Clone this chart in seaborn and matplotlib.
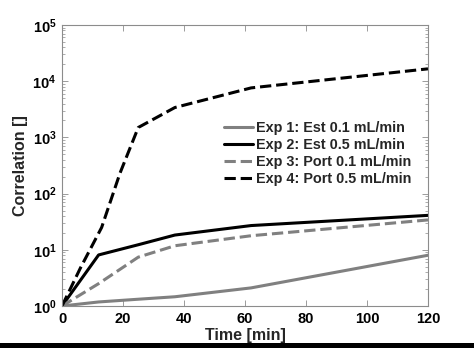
import math
import matplotlib
matplotlib.use("Agg")
import matplotlib.pyplot as plt
import seaborn as sns
import pandas as pd
from matplotlib.ticker import FixedLocator, LogLocator, FuncFormatter, NullFormatter
from matplotlib.patches import Rectangle

times = [0, 12, 25, 37, 62, 120]
exp1 = [1, 1.18, 1.32, 1.46, 2.1, 8.0]
exp2 = [1, 8.1, 12.3, 18.3, 27, 41]
exp3 = [1, 2.5, 7.4, 11.8, 17.8, 34]
times4 = [0, 6, 13, 19, 25, 37, 62, 120]
exp4 = [1, 4.7, 25, 230, 1500, 3400, 7600, 16600]
labels = ["Exp 1: Est 0.1 mL/min", "Exp 2: Est 0.5 mL/min",
          "Exp 3: Port 0.1 mL/min", "Exp 4: Port 0.5 mL/min"]
xticks = [0, 20, 40, 60, 80, 100, 120]
yexp = [0, 1, 2, 3, 4, 5]

sns.set_style("ticks")
plt.rcParams['font.family'] = ['Liberation Sans', 'DejaVu Sans']
plt.rcParams['font.weight'] = 'bold'
plt.rcParams['mathtext.fontset'] = 'custom'
plt.rcParams['mathtext.rm'] = 'Liberation Sans:bold'
plt.rcParams['mathtext.bf'] = 'Liberation Sans:bold'
plt.rcParams['mathtext.it'] = 'Liberation Sans:bold'
plt.rcParams['mathtext.default'] = 'bf'

fig = plt.figure(figsize=(4.74, 3.48), dpi=100)
ax = fig.add_axes([62/474, 1-306/348, 366/474, 281/348])

gray = '#808080'
series = [(times, exp1, gray, '-'), (times, exp2, 'black', '-'),
          (times, exp3, gray, '--'), (times4, exp4, 'black', '--')]
for (tt, vals, col, ls), lab in zip(series, labels):
    df = pd.DataFrame({'t': tt, 'v': vals})
    kw = dict(linestyle=ls)
    if ls == '--':
        kw['dashes'] = (4, 2.2)
    sns.lineplot(data=df, x='t', y='v', ax=ax, color=col, linewidth=2.2, label=lab, **kw)

ax.set_yscale('log')
ax.set_xlim(0, 120)
ax.set_ylim(1, 1e5)
ax.xaxis.set_major_locator(FixedLocator(xticks))
ax.yaxis.set_major_locator(FixedLocator([10**e for e in yexp]))
ax.yaxis.set_minor_locator(LogLocator(base=10, subs=range(2, 10)))
ax.yaxis.set_minor_formatter(NullFormatter())
ax.yaxis.set_major_formatter(FuncFormatter(lambda v, p: r'$\mathbf{10^{%d}}$' % round(math.log10(v))))

for s in ax.spines.values():
    s.set_color('#8c8c8c')
    s.set_linewidth(0.8)
    s.set_visible(True)
ax.tick_params(which='both', direction='in', top=True, right=True, color='#8c8c8c')
ax.tick_params(which='major', length=4, width=0.6, labelsize=10.5, labelcolor='black', pad=4)
ax.tick_params(which='minor', length=2, width=0.5)
for lab in ax.get_xticklabels() + ax.get_yticklabels():
    lab.set_fontweight('bold')

ax.set_xlabel('Time [min]', fontsize=11.5, fontweight='bold', labelpad=2)
ax.set_ylabel('Correlation []', fontsize=11.5, fontweight='bold', labelpad=3)

leg = ax.legend(loc='upper left', bbox_to_anchor=((224-62)/366, 0.657), frameon=False,
                fontsize=10.4, handlelength=2.0, handletextpad=0.2, labelspacing=0.21,
                borderaxespad=0, borderpad=0)
for t in leg.get_texts():
    t.set_fontweight('bold')

fig.patches.append(Rectangle((0, 0), 1, 5/348, transform=fig.transFigure,
                             facecolor='black', edgecolor='none'))

fig.savefig('out.png', dpi=100)
